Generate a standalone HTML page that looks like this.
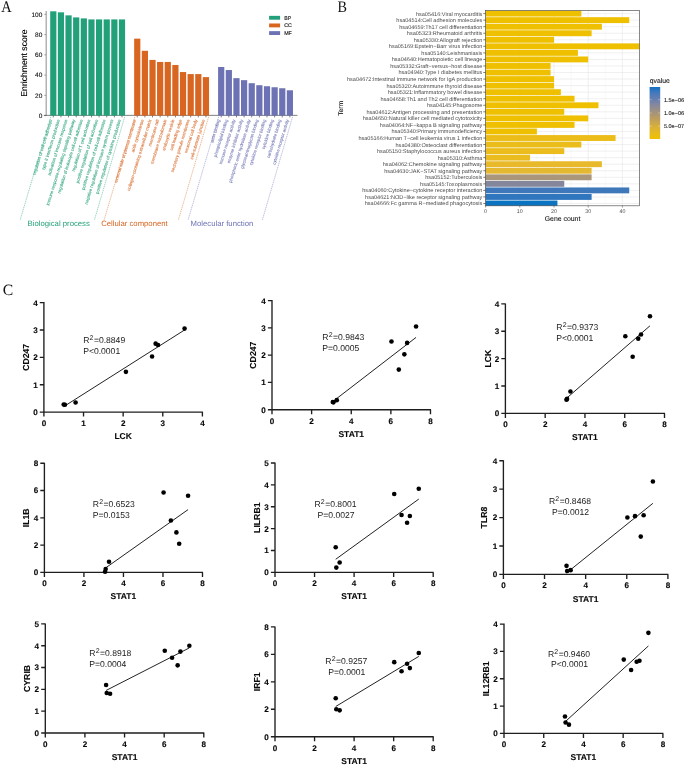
<!DOCTYPE html>
<html lang="en"><head><meta charset="utf-8"><title>Figure: GO / KEGG enrichment and correlation analysis</title>
<style>html,body{margin:0;padding:0;background:#fff}body{width:685px;height:765px;overflow:hidden}svg{display:block}svg text{font-family:'Liberation Sans', sans-serif;text-rendering:geometricPrecision}</style></head><body>
<svg width="685" height="765" viewBox="0 0 685 765">
<rect width="685" height="765" fill="#fff"/>
<text transform="translate(1.2 11.8) scale(0.88 1)" font-size="16.3" fill="#111" style="font-family:'Liberation Serif', serif">A</text>
<text transform="translate(337.5 11.5) scale(0.88 1)" font-size="16.1" fill="#111" style="font-family:'Liberation Serif', serif">B</text>
<text x="2.7" y="294.9" font-size="15.7" fill="#111" style="font-family:'Liberation Serif', serif">C</text>
<g id="panelA">
<path d="M46.2 10.9V115.7" fill="none" stroke="#a0a0a0" stroke-width="1.2"/>
<path d="M43.8 115.35H297.5" fill="none" stroke="#555" stroke-width="0.75"/>
<path d="M44.5 115.6H45.7" stroke="#333" stroke-width="0.6"/>
<text x="42.3" y="117.9" font-size="6.5" text-anchor="end" fill="#111" stroke="#111" stroke-width="0.12">0</text>
<path d="M44.5 95.35H45.7" stroke="#333" stroke-width="0.6"/>
<text x="42.3" y="97.65" font-size="6.5" text-anchor="end" fill="#111" stroke="#111" stroke-width="0.12">20</text>
<path d="M44.5 75.1H45.7" stroke="#333" stroke-width="0.6"/>
<text x="42.3" y="77.4" font-size="6.5" text-anchor="end" fill="#111" stroke="#111" stroke-width="0.12">40</text>
<path d="M44.5 54.85H45.7" stroke="#333" stroke-width="0.6"/>
<text x="42.3" y="57.15" font-size="6.5" text-anchor="end" fill="#111" stroke="#111" stroke-width="0.12">60</text>
<path d="M44.5 34.6H45.7" stroke="#333" stroke-width="0.6"/>
<text x="42.3" y="36.9" font-size="6.5" text-anchor="end" fill="#111" stroke="#111" stroke-width="0.12">80</text>
<path d="M44.5 14.35H45.7" stroke="#333" stroke-width="0.6"/>
<text x="42.3" y="16.65" font-size="6.5" text-anchor="end" fill="#111" stroke="#111" stroke-width="0.12">100</text>
<text transform="translate(26.5 63.1) rotate(-90)" font-size="8.65" text-anchor="middle" fill="#000" stroke="#000" stroke-width="0.12">Enrichment score</text>
<rect x="50.2" y="11.31" width="6.2" height="104.29" fill="#22A079"/>
<path d="M53.3 115.7v1.7" stroke="#2a2a2a" stroke-width="0.6"/>
<text transform="translate(52.3 119.9) rotate(-73)" font-size="4.3" text-anchor="end" fill="#22A079" fill-opacity="0.9" stroke="#22A079" stroke-width="0.12" stroke-opacity="0.7">regulation of cell-cell adhesion</text>
<rect x="57.83" y="12.33" width="6.2" height="103.27" fill="#22A079"/>
<path d="M60.93 115.7v1.7" stroke="#2a2a2a" stroke-width="0.6"/>
<text transform="translate(59.93 119.9) rotate(-73)" font-size="4.3" text-anchor="end" fill="#22A079" fill-opacity="0.9" stroke="#22A079" stroke-width="0.12" stroke-opacity="0.7">type II interferon production</text>
<rect x="65.46" y="15.36" width="6.2" height="100.24" fill="#22A079"/>
<path d="M68.56 115.7v1.7" stroke="#2a2a2a" stroke-width="0.6"/>
<text transform="translate(67.56 119.9) rotate(-73)" font-size="4.3" text-anchor="end" fill="#22A079" fill-opacity="0.9" stroke="#22A079" stroke-width="0.12" stroke-opacity="0.7">activation of immune response</text>
<rect x="73.1" y="17.39" width="6.2" height="98.21" fill="#22A079"/>
<path d="M76.2 115.7v1.7" stroke="#2a2a2a" stroke-width="0.6"/>
<text transform="translate(75.2 119.9) rotate(-73)" font-size="4.3" text-anchor="end" fill="#22A079" fill-opacity="0.9" stroke="#22A079" stroke-width="0.12" stroke-opacity="0.7">immune response-regulating signaling pathway</text>
<rect x="80.73" y="18.4" width="6.2" height="97.2" fill="#22A079"/>
<path d="M83.83 115.7v1.7" stroke="#2a2a2a" stroke-width="0.6"/>
<text transform="translate(82.83 119.9) rotate(-73)" font-size="4.3" text-anchor="end" fill="#22A079" fill-opacity="0.9" stroke="#22A079" stroke-width="0.12" stroke-opacity="0.7">regulation of leukocyte cell-cell adhesion</text>
<rect x="88.36" y="19.41" width="6.2" height="96.19" fill="#22A079"/>
<path d="M91.46 115.7v1.7" stroke="#2a2a2a" stroke-width="0.6"/>
<text transform="translate(90.46 119.9) rotate(-73)" font-size="4.3" text-anchor="end" fill="#22A079" fill-opacity="0.9" stroke="#22A079" stroke-width="0.12" stroke-opacity="0.7">regulation of T cell activation</text>
<rect x="95.99" y="19.41" width="6.2" height="96.19" fill="#22A079"/>
<path d="M99.09 115.7v1.7" stroke="#2a2a2a" stroke-width="0.6"/>
<text transform="translate(98.09 119.9) rotate(-73)" font-size="4.3" text-anchor="end" fill="#22A079" fill-opacity="0.9" stroke="#22A079" stroke-width="0.12" stroke-opacity="0.7">positive regulation of cell activation</text>
<rect x="103.62" y="19.41" width="6.2" height="96.19" fill="#22A079"/>
<path d="M106.72 115.7v1.7" stroke="#2a2a2a" stroke-width="0.6"/>
<text transform="translate(105.72 119.9) rotate(-73)" font-size="4.3" text-anchor="end" fill="#22A079" fill-opacity="0.9" stroke="#22A079" stroke-width="0.12" stroke-opacity="0.7">positive regulation of cell-cell adhesion</text>
<rect x="111.26" y="19.41" width="6.2" height="96.19" fill="#22A079"/>
<path d="M114.36 115.7v1.7" stroke="#2a2a2a" stroke-width="0.6"/>
<text transform="translate(113.36 119.9) rotate(-73)" font-size="4.3" text-anchor="end" fill="#22A079" fill-opacity="0.9" stroke="#22A079" stroke-width="0.12" stroke-opacity="0.7">negative regulation of immune system process</text>
<rect x="118.89" y="19.41" width="6.2" height="96.19" fill="#22A079"/>
<path d="M121.99 115.7v1.7" stroke="#2a2a2a" stroke-width="0.6"/>
<text transform="translate(120.99 119.9) rotate(-73)" font-size="4.3" text-anchor="end" fill="#22A079" fill-opacity="0.9" stroke="#22A079" stroke-width="0.12" stroke-opacity="0.7">positive regulation of cytokine production</text>
<path d="M50.8 116.8L20.06 220.3" stroke="#22A079" stroke-width="0.55" stroke-dasharray="1.3 0.7" fill="none" stroke-opacity="0.85"/>
<path d="M124.69 116.8L94.34 220.3" stroke="#22A079" stroke-width="0.55" stroke-dasharray="1.3 0.7" fill="none" stroke-opacity="0.85"/>
<rect x="134.15" y="38.65" width="6.2" height="76.95" fill="#D86520"/>
<path d="M137.25 115.7v1.7" stroke="#2a2a2a" stroke-width="0.6"/>
<text transform="translate(136.25 119.9) rotate(-73)" font-size="4.3" text-anchor="end" fill="#D86520" fill-opacity="0.9" stroke="#D86520" stroke-width="0.12" stroke-opacity="0.7">external side of plasma membrane</text>
<rect x="141.78" y="50.8" width="6.2" height="64.8" fill="#D86520"/>
<path d="M144.88 115.7v1.7" stroke="#2a2a2a" stroke-width="0.6"/>
<text transform="translate(143.88 119.9) rotate(-73)" font-size="4.3" text-anchor="end" fill="#D86520" fill-opacity="0.9" stroke="#D86520" stroke-width="0.12" stroke-opacity="0.7">actin cytoskeleton</text>
<rect x="149.42" y="59.91" width="6.2" height="55.69" fill="#D86520"/>
<path d="M152.52 115.7v1.7" stroke="#2a2a2a" stroke-width="0.6"/>
<text transform="translate(151.52 119.9) rotate(-73)" font-size="4.3" text-anchor="end" fill="#D86520" fill-opacity="0.9" stroke="#D86520" stroke-width="0.12" stroke-opacity="0.7">collagen-containing extracellular matrix</text>
<rect x="157.05" y="61.94" width="6.2" height="53.66" fill="#D86520"/>
<path d="M160.15 115.7v1.7" stroke="#2a2a2a" stroke-width="0.6"/>
<text transform="translate(159.15 119.9) rotate(-73)" font-size="4.3" text-anchor="end" fill="#D86520" fill-opacity="0.9" stroke="#D86520" stroke-width="0.12" stroke-opacity="0.7">membrane raft</text>
<rect x="164.68" y="61.94" width="6.2" height="53.66" fill="#D86520"/>
<path d="M167.78 115.7v1.7" stroke="#2a2a2a" stroke-width="0.6"/>
<text transform="translate(166.78 119.9) rotate(-73)" font-size="4.3" text-anchor="end" fill="#D86520" fill-opacity="0.9" stroke="#D86520" stroke-width="0.12" stroke-opacity="0.7">membrane microdomain</text>
<rect x="172.31" y="64.97" width="6.2" height="50.62" fill="#D86520"/>
<path d="M175.41 115.7v1.7" stroke="#2a2a2a" stroke-width="0.6"/>
<text transform="translate(174.41 119.9) rotate(-73)" font-size="4.3" text-anchor="end" fill="#D86520" fill-opacity="0.9" stroke="#D86520" stroke-width="0.12" stroke-opacity="0.7">endocytic vesicle</text>
<rect x="179.94" y="72.06" width="6.2" height="43.54" fill="#D86520"/>
<path d="M183.04 115.7v1.7" stroke="#2a2a2a" stroke-width="0.6"/>
<text transform="translate(182.04 119.9) rotate(-73)" font-size="4.3" text-anchor="end" fill="#D86520" fill-opacity="0.9" stroke="#D86520" stroke-width="0.12" stroke-opacity="0.7">cell leading edge</text>
<rect x="187.58" y="74.09" width="6.2" height="41.51" fill="#D86520"/>
<path d="M190.68 115.7v1.7" stroke="#2a2a2a" stroke-width="0.6"/>
<text transform="translate(189.68 119.9) rotate(-73)" font-size="4.3" text-anchor="end" fill="#D86520" fill-opacity="0.9" stroke="#D86520" stroke-width="0.12" stroke-opacity="0.7">secretory granule membrane</text>
<rect x="195.21" y="74.09" width="6.2" height="41.51" fill="#D86520"/>
<path d="M198.31 115.7v1.7" stroke="#2a2a2a" stroke-width="0.6"/>
<text transform="translate(197.31 119.9) rotate(-73)" font-size="4.3" text-anchor="end" fill="#D86520" fill-opacity="0.9" stroke="#D86520" stroke-width="0.12" stroke-opacity="0.7">neuronal cell body</text>
<rect x="202.84" y="77.12" width="6.2" height="38.48" fill="#D86520"/>
<path d="M205.94 115.7v1.7" stroke="#2a2a2a" stroke-width="0.6"/>
<text transform="translate(204.94 119.9) rotate(-73)" font-size="4.3" text-anchor="end" fill="#D86520" fill-opacity="0.9" stroke="#D86520" stroke-width="0.12" stroke-opacity="0.7">cell-substrate junction</text>
<path d="M134.75 116.8L104.01 220.3" stroke="#D86520" stroke-width="0.55" stroke-dasharray="1.3 0.7" fill="none" stroke-opacity="0.85"/>
<path d="M208.64 116.8L178.3 220.3" stroke="#D86520" stroke-width="0.55" stroke-dasharray="1.3 0.7" fill="none" stroke-opacity="0.85"/>
<rect x="218.1" y="67" width="6.2" height="48.6" fill="#6C72B4"/>
<path d="M221.2 115.7v1.7" stroke="#2a2a2a" stroke-width="0.6"/>
<text transform="translate(220.2 119.9) rotate(-73)" font-size="4.3" text-anchor="end" fill="#6C72B4" fill-opacity="0.9" stroke="#6C72B4" stroke-width="0.12" stroke-opacity="0.7">actin binding</text>
<rect x="225.74" y="70.04" width="6.2" height="45.56" fill="#6C72B4"/>
<path d="M228.84 115.7v1.7" stroke="#2a2a2a" stroke-width="0.6"/>
<text transform="translate(227.84 119.9) rotate(-73)" font-size="4.3" text-anchor="end" fill="#6C72B4" fill-opacity="0.9" stroke="#6C72B4" stroke-width="0.12" stroke-opacity="0.7">phospholipid binding</text>
<rect x="233.37" y="78.14" width="6.2" height="37.46" fill="#6C72B4"/>
<path d="M236.47 115.7v1.7" stroke="#2a2a2a" stroke-width="0.6"/>
<text transform="translate(235.47 119.9) rotate(-73)" font-size="4.3" text-anchor="end" fill="#6C72B4" fill-opacity="0.9" stroke="#6C72B4" stroke-width="0.12" stroke-opacity="0.7">immune receptor activity</text>
<rect x="241" y="80.16" width="6.2" height="35.44" fill="#6C72B4"/>
<path d="M244.1 115.7v1.7" stroke="#2a2a2a" stroke-width="0.6"/>
<text transform="translate(243.1 119.9) rotate(-73)" font-size="4.3" text-anchor="end" fill="#6C72B4" fill-opacity="0.9" stroke="#6C72B4" stroke-width="0.12" stroke-opacity="0.7">enzyme inhibitor activity</text>
<rect x="248.63" y="83.2" width="6.2" height="32.4" fill="#6C72B4"/>
<path d="M251.73 115.7v1.7" stroke="#2a2a2a" stroke-width="0.6"/>
<text transform="translate(250.73 119.9) rotate(-73)" font-size="4.3" text-anchor="end" fill="#6C72B4" fill-opacity="0.9" stroke="#6C72B4" stroke-width="0.12" stroke-opacity="0.7">phosphoric ester hydrolase activity</text>
<rect x="256.26" y="85.22" width="6.2" height="30.38" fill="#6C72B4"/>
<path d="M259.36 115.7v1.7" stroke="#2a2a2a" stroke-width="0.6"/>
<text transform="translate(258.36 119.9) rotate(-73)" font-size="4.3" text-anchor="end" fill="#6C72B4" fill-opacity="0.9" stroke="#6C72B4" stroke-width="0.12" stroke-opacity="0.7">glycosaminoglycan binding</text>
<rect x="263.9" y="86.24" width="6.2" height="29.36" fill="#6C72B4"/>
<path d="M267 115.7v1.7" stroke="#2a2a2a" stroke-width="0.6"/>
<text transform="translate(266 119.9) rotate(-73)" font-size="4.3" text-anchor="end" fill="#6C72B4" fill-opacity="0.9" stroke="#6C72B4" stroke-width="0.12" stroke-opacity="0.7">cytokine receptor binding</text>
<rect x="271.53" y="87.25" width="6.2" height="28.35" fill="#6C72B4"/>
<path d="M274.63 115.7v1.7" stroke="#2a2a2a" stroke-width="0.6"/>
<text transform="translate(273.63 119.9) rotate(-73)" font-size="4.3" text-anchor="end" fill="#6C72B4" fill-opacity="0.9" stroke="#6C72B4" stroke-width="0.12" stroke-opacity="0.7">cytokine binding</text>
<rect x="279.16" y="88.26" width="6.2" height="27.34" fill="#6C72B4"/>
<path d="M282.26 115.7v1.7" stroke="#2a2a2a" stroke-width="0.6"/>
<text transform="translate(281.26 119.9) rotate(-73)" font-size="4.3" text-anchor="end" fill="#6C72B4" fill-opacity="0.9" stroke="#6C72B4" stroke-width="0.12" stroke-opacity="0.7">carbohydrate binding</text>
<rect x="286.79" y="90.29" width="6.2" height="25.31" fill="#6C72B4"/>
<path d="M289.89 115.7v1.7" stroke="#2a2a2a" stroke-width="0.6"/>
<text transform="translate(288.89 119.9) rotate(-73)" font-size="4.3" text-anchor="end" fill="#6C72B4" fill-opacity="0.9" stroke="#6C72B4" stroke-width="0.12" stroke-opacity="0.7">cytokine receptor activity</text>
<path d="M218.7 116.8L187.96 220.3" stroke="#6C72B4" stroke-width="0.55" stroke-dasharray="1.3 0.7" fill="none" stroke-opacity="0.85"/>
<path d="M292.59 116.8L262.25 220.3" stroke="#6C72B4" stroke-width="0.55" stroke-dasharray="1.3 0.7" fill="none" stroke-opacity="0.85"/>
<text x="27.6" y="225.6" font-size="7.72" fill="#22A079">Biological process</text>
<text x="101.2" y="225.6" font-size="7.72" fill="#D86520">Cellular component</text>
<text x="190.6" y="225.6" font-size="7.72" fill="#6C72B4">Molecular function</text>
<rect x="269.1" y="15.85" width="11" height="3.85" fill="#22A079"/>
<text x="284.2" y="19.7" font-size="5.3" fill="#111" stroke="#111" stroke-width="0.12">BP</text>
<rect x="269.1" y="23.5" width="11" height="3.85" fill="#D86520"/>
<text x="284.2" y="27.35" font-size="5.3" fill="#111" stroke="#111" stroke-width="0.12">CC</text>
<rect x="269.1" y="31.15" width="11" height="3.85" fill="#6C72B4"/>
<text x="284.2" y="35" font-size="5.3" fill="#111" stroke="#111" stroke-width="0.12">MF</text>
</g>
<g id="panelB">
<path d="M502.7 10.5V205.8" stroke="#f1f1f1" stroke-width="0.4"/>
<path d="M536.9 10.5V205.8" stroke="#f1f1f1" stroke-width="0.4"/>
<path d="M571.1 10.5V205.8" stroke="#f1f1f1" stroke-width="0.4"/>
<path d="M605.3 10.5V205.8" stroke="#f1f1f1" stroke-width="0.4"/>
<path d="M485.6 10.5V205.8" stroke="#e6e6e6" stroke-width="0.6"/>
<path d="M519.8 10.5V205.8" stroke="#e6e6e6" stroke-width="0.6"/>
<path d="M554 10.5V205.8" stroke="#e6e6e6" stroke-width="0.6"/>
<path d="M588.2 10.5V205.8" stroke="#e6e6e6" stroke-width="0.6"/>
<path d="M622.4 10.5V205.8" stroke="#e6e6e6" stroke-width="0.6"/>
<path d="M485.6 13.6H639.5" stroke="#e6e6e6" stroke-width="0.6"/>
<path d="M485.6 20.15H639.5" stroke="#e6e6e6" stroke-width="0.6"/>
<path d="M485.6 26.7H639.5" stroke="#e6e6e6" stroke-width="0.6"/>
<path d="M485.6 33.24H639.5" stroke="#e6e6e6" stroke-width="0.6"/>
<path d="M485.6 39.79H639.5" stroke="#e6e6e6" stroke-width="0.6"/>
<path d="M485.6 46.34H639.5" stroke="#e6e6e6" stroke-width="0.6"/>
<path d="M485.6 52.89H639.5" stroke="#e6e6e6" stroke-width="0.6"/>
<path d="M485.6 59.44H639.5" stroke="#e6e6e6" stroke-width="0.6"/>
<path d="M485.6 65.98H639.5" stroke="#e6e6e6" stroke-width="0.6"/>
<path d="M485.6 72.53H639.5" stroke="#e6e6e6" stroke-width="0.6"/>
<path d="M485.6 79.08H639.5" stroke="#e6e6e6" stroke-width="0.6"/>
<path d="M485.6 85.63H639.5" stroke="#e6e6e6" stroke-width="0.6"/>
<path d="M485.6 92.18H639.5" stroke="#e6e6e6" stroke-width="0.6"/>
<path d="M485.6 98.72H639.5" stroke="#e6e6e6" stroke-width="0.6"/>
<path d="M485.6 105.27H639.5" stroke="#e6e6e6" stroke-width="0.6"/>
<path d="M485.6 111.82H639.5" stroke="#e6e6e6" stroke-width="0.6"/>
<path d="M485.6 118.37H639.5" stroke="#e6e6e6" stroke-width="0.6"/>
<path d="M485.6 124.92H639.5" stroke="#e6e6e6" stroke-width="0.6"/>
<path d="M485.6 131.46H639.5" stroke="#e6e6e6" stroke-width="0.6"/>
<path d="M485.6 138.01H639.5" stroke="#e6e6e6" stroke-width="0.6"/>
<path d="M485.6 144.56H639.5" stroke="#e6e6e6" stroke-width="0.6"/>
<path d="M485.6 151.11H639.5" stroke="#e6e6e6" stroke-width="0.6"/>
<path d="M485.6 157.66H639.5" stroke="#e6e6e6" stroke-width="0.6"/>
<path d="M485.6 164.2H639.5" stroke="#e6e6e6" stroke-width="0.6"/>
<path d="M485.6 170.75H639.5" stroke="#e6e6e6" stroke-width="0.6"/>
<path d="M485.6 177.3H639.5" stroke="#e6e6e6" stroke-width="0.6"/>
<path d="M485.6 183.85H639.5" stroke="#e6e6e6" stroke-width="0.6"/>
<path d="M485.6 190.4H639.5" stroke="#e6e6e6" stroke-width="0.6"/>
<path d="M485.6 196.94H639.5" stroke="#e6e6e6" stroke-width="0.6"/>
<path d="M485.6 203.49H639.5" stroke="#e6e6e6" stroke-width="0.6"/>
<rect x="485.6" y="10.65" width="95.76" height="5.89" fill="#EFC000"/>
<path d="M483.3 13.6H485.6" stroke="#222" stroke-width="0.6"/>
<text x="482.4" y="15.55" font-size="5.56" text-anchor="end" fill="#4d4d4d">hsa05416:Viral myocarditis</text>
<rect x="485.6" y="17.2" width="143.64" height="5.89" fill="#EFC000"/>
<path d="M483.3 20.15H485.6" stroke="#222" stroke-width="0.6"/>
<text x="482.4" y="22.1" font-size="5.56" text-anchor="end" fill="#4d4d4d">hsa04514:Cell adhesion molecules</text>
<rect x="485.6" y="23.75" width="116.28" height="5.89" fill="#EFC000"/>
<path d="M483.3 26.7H485.6" stroke="#222" stroke-width="0.6"/>
<text x="482.4" y="28.65" font-size="5.56" text-anchor="end" fill="#4d4d4d">hsa04659:Th17 cell differentiation</text>
<rect x="485.6" y="30.3" width="106.02" height="5.89" fill="#EFC000"/>
<path d="M483.3 33.24H485.6" stroke="#222" stroke-width="0.6"/>
<text x="482.4" y="35.19" font-size="5.56" text-anchor="end" fill="#4d4d4d">hsa05323:Rheumatoid arthritis</text>
<rect x="485.6" y="36.85" width="68.4" height="5.89" fill="#EFC000"/>
<path d="M483.3 39.79H485.6" stroke="#222" stroke-width="0.6"/>
<text x="482.4" y="41.74" font-size="5.56" text-anchor="end" fill="#4d4d4d">hsa05330:Allograft rejection</text>
<rect x="485.6" y="43.39" width="153.9" height="5.89" fill="#EFC000"/>
<path d="M483.3 46.34H485.6" stroke="#222" stroke-width="0.6"/>
<text x="482.4" y="48.29" font-size="5.56" text-anchor="end" fill="#4d4d4d">hsa05169:Epstein−Barr virus infection</text>
<rect x="485.6" y="49.94" width="92.34" height="5.89" fill="#EFC000"/>
<path d="M483.3 52.89H485.6" stroke="#222" stroke-width="0.6"/>
<text x="482.4" y="54.84" font-size="5.56" text-anchor="end" fill="#4d4d4d">hsa05140:Leishmaniasis</text>
<rect x="485.6" y="56.49" width="102.6" height="5.89" fill="#EFC000"/>
<path d="M483.3 59.44H485.6" stroke="#222" stroke-width="0.6"/>
<text x="482.4" y="61.39" font-size="5.56" text-anchor="end" fill="#4d4d4d">hsa04640:Hematopoietic cell lineage</text>
<rect x="485.6" y="63.04" width="64.98" height="5.89" fill="#EFC000"/>
<path d="M483.3 65.98H485.6" stroke="#222" stroke-width="0.6"/>
<text x="482.4" y="67.93" font-size="5.56" text-anchor="end" fill="#4d4d4d">hsa05332:Graft−versus−host disease</text>
<rect x="485.6" y="69.59" width="64.98" height="5.89" fill="#EFC000"/>
<path d="M483.3 72.53H485.6" stroke="#222" stroke-width="0.6"/>
<text x="482.4" y="74.48" font-size="5.56" text-anchor="end" fill="#4d4d4d">hsa04940:Type I diabetes mellitus</text>
<rect x="485.6" y="76.13" width="68.4" height="5.89" fill="#EFC000"/>
<path d="M483.3 79.08H485.6" stroke="#222" stroke-width="0.6"/>
<text x="482.4" y="81.03" font-size="5.56" text-anchor="end" fill="#4d4d4d">hsa04672:Intestinal immune network for IgA production</text>
<rect x="485.6" y="82.68" width="68.4" height="5.89" fill="#EFC000"/>
<path d="M483.3 85.63H485.6" stroke="#222" stroke-width="0.6"/>
<text x="482.4" y="87.58" font-size="5.56" text-anchor="end" fill="#4d4d4d">hsa05320:Autoimmune thyroid disease</text>
<rect x="485.6" y="89.23" width="75.24" height="5.89" fill="#EFC000"/>
<path d="M483.3 92.18H485.6" stroke="#222" stroke-width="0.6"/>
<text x="482.4" y="94.13" font-size="5.56" text-anchor="end" fill="#4d4d4d">hsa05321:Inflammatory bowel disease</text>
<rect x="485.6" y="95.78" width="88.92" height="5.89" fill="#EFC000"/>
<path d="M483.3 98.72H485.6" stroke="#222" stroke-width="0.6"/>
<text x="482.4" y="100.67" font-size="5.56" text-anchor="end" fill="#4d4d4d">hsa04658:Th1 and Th2 cell differentiation</text>
<rect x="485.6" y="102.33" width="112.86" height="5.89" fill="#EFC000"/>
<path d="M483.3 105.27H485.6" stroke="#222" stroke-width="0.6"/>
<text x="482.4" y="107.22" font-size="5.56" text-anchor="end" fill="#4d4d4d">hsa04145:Phagosome</text>
<rect x="485.6" y="108.87" width="78.66" height="5.89" fill="#EFC000"/>
<path d="M483.3 111.82H485.6" stroke="#222" stroke-width="0.6"/>
<text x="482.4" y="113.77" font-size="5.56" text-anchor="end" fill="#4d4d4d">hsa04612:Antigen processing and presentation</text>
<rect x="485.6" y="115.42" width="102.6" height="5.89" fill="#EFC000"/>
<path d="M483.3 118.37H485.6" stroke="#222" stroke-width="0.6"/>
<text x="482.4" y="120.32" font-size="5.56" text-anchor="end" fill="#4d4d4d">hsa04650:Natural killer cell mediated cytotoxicity</text>
<rect x="485.6" y="121.97" width="88.92" height="5.89" fill="#EFC000"/>
<path d="M483.3 124.92H485.6" stroke="#222" stroke-width="0.6"/>
<text x="482.4" y="126.87" font-size="5.56" text-anchor="end" fill="#4d4d4d">hsa04064:NF−kappa B signaling pathway</text>
<rect x="485.6" y="128.52" width="51.3" height="5.89" fill="#EFC000"/>
<path d="M483.3 131.46H485.6" stroke="#222" stroke-width="0.6"/>
<text x="482.4" y="133.41" font-size="5.56" text-anchor="end" fill="#4d4d4d">hsa05340:Primary immunodeficiency</text>
<rect x="485.6" y="135.07" width="129.96" height="5.89" fill="#ECBD18"/>
<path d="M483.3 138.01H485.6" stroke="#222" stroke-width="0.6"/>
<text x="482.4" y="139.96" font-size="5.56" text-anchor="end" fill="#4d4d4d">hsa05166:Human T−cell leukemia virus 1 infection</text>
<rect x="485.6" y="141.61" width="95.76" height="5.89" fill="#EBBD1A"/>
<path d="M483.3 144.56H485.6" stroke="#222" stroke-width="0.6"/>
<text x="482.4" y="146.51" font-size="5.56" text-anchor="end" fill="#4d4d4d">hsa04380:Osteoclast differentiation</text>
<rect x="485.6" y="148.16" width="78.66" height="5.89" fill="#EBBC1C"/>
<path d="M483.3 151.11H485.6" stroke="#222" stroke-width="0.6"/>
<text x="482.4" y="153.06" font-size="5.56" text-anchor="end" fill="#4d4d4d">hsa05150:Staphylococcus aureus infection</text>
<rect x="485.6" y="154.71" width="44.46" height="5.89" fill="#EABC20"/>
<path d="M483.3 157.66H485.6" stroke="#222" stroke-width="0.6"/>
<text x="482.4" y="159.61" font-size="5.56" text-anchor="end" fill="#4d4d4d">hsa05310:Asthma</text>
<rect x="485.6" y="161.26" width="116.28" height="5.89" fill="#E7B92B"/>
<path d="M483.3 164.2H485.6" stroke="#222" stroke-width="0.6"/>
<text x="482.4" y="166.15" font-size="5.56" text-anchor="end" fill="#4d4d4d">hsa04062:Chemokine signaling pathway</text>
<rect x="485.6" y="167.81" width="106.02" height="5.89" fill="#E5B832"/>
<path d="M483.3 170.75H485.6" stroke="#222" stroke-width="0.6"/>
<text x="482.4" y="172.7" font-size="5.56" text-anchor="end" fill="#4d4d4d">hsa04630:JAK−STAT signaling pathway</text>
<rect x="485.6" y="174.35" width="106.02" height="5.89" fill="#AA977B"/>
<path d="M483.3 177.3H485.6" stroke="#222" stroke-width="0.6"/>
<text x="482.4" y="179.25" font-size="5.56" text-anchor="end" fill="#4d4d4d">hsa05152:Tuberculosis</text>
<rect x="485.6" y="180.9" width="78.66" height="5.89" fill="#84869C"/>
<path d="M483.3 183.85H485.6" stroke="#222" stroke-width="0.6"/>
<text x="482.4" y="185.8" font-size="5.56" text-anchor="end" fill="#4d4d4d">hsa05145:Toxoplasmosis</text>
<rect x="485.6" y="187.45" width="143.64" height="5.89" fill="#3F78BA"/>
<path d="M483.3 190.4H485.6" stroke="#222" stroke-width="0.6"/>
<text x="482.4" y="192.35" font-size="5.56" text-anchor="end" fill="#4d4d4d">hsa04060:Cytokine−cytokine receptor interaction</text>
<rect x="485.6" y="194" width="106.02" height="5.89" fill="#2F76BE"/>
<path d="M483.3 196.94H485.6" stroke="#222" stroke-width="0.6"/>
<text x="482.4" y="198.89" font-size="5.56" text-anchor="end" fill="#4d4d4d">hsa04621:NOD−like receptor signaling pathway</text>
<rect x="485.6" y="200.55" width="71.82" height="5.25" fill="#0A73C2"/>
<path d="M483.3 203.49H485.6" stroke="#222" stroke-width="0.6"/>
<text x="482.4" y="205.44" font-size="5.56" text-anchor="end" fill="#4d4d4d">hsa04666:Fc gamma R−mediated phagocytosis</text>
<rect x="485.6" y="10.5" width="153.9" height="195.3" fill="none" stroke="#4a4a4a" stroke-width="0.65"/>
<path d="M485.6 205.8v1.7" stroke="#333" stroke-width="0.5"/>
<text x="485.6" y="213" font-size="5.3" text-anchor="middle" fill="#4d4d4d">0</text>
<path d="M519.8 205.8v1.7" stroke="#333" stroke-width="0.5"/>
<text x="519.8" y="213" font-size="5.3" text-anchor="middle" fill="#4d4d4d">10</text>
<path d="M554 205.8v1.7" stroke="#333" stroke-width="0.5"/>
<text x="554" y="213" font-size="5.3" text-anchor="middle" fill="#4d4d4d">20</text>
<path d="M588.2 205.8v1.7" stroke="#333" stroke-width="0.5"/>
<text x="588.2" y="213" font-size="5.3" text-anchor="middle" fill="#4d4d4d">30</text>
<path d="M622.4 205.8v1.7" stroke="#333" stroke-width="0.5"/>
<text x="622.4" y="213" font-size="5.3" text-anchor="middle" fill="#4d4d4d">40</text>
<text x="562.55" y="221.3" font-size="6.9" text-anchor="middle" fill="#111" stroke="#111" stroke-width="0.08">Gene count</text>
<text transform="translate(342.9 108.3) rotate(-90)" font-size="6.8" text-anchor="middle" fill="#111" stroke="#111" stroke-width="0.1">Term</text>
<defs><linearGradient id="qg" x1="0" y1="0" x2="0" y2="1"><stop offset="0" stop-color="#1471C4"/><stop offset="0.12" stop-color="#4779BC"/><stop offset="0.25" stop-color="#6A80AD"/><stop offset="0.37" stop-color="#8C8A99"/><stop offset="0.5" stop-color="#A69479"/><stop offset="0.62" stop-color="#BE9F5C"/><stop offset="0.75" stop-color="#D6AE3E"/><stop offset="0.88" stop-color="#E6BA1E"/><stop offset="1" stop-color="#EFC000"/></linearGradient></defs>
<text x="649.8" y="82.6" font-size="6.8" fill="#111" stroke="#111" stroke-width="0.08">qvalue</text>
<rect x="649.6" y="87" width="10.6" height="52" fill="url(#qg)"/>
<path d="M649.6 99.7h2.1M658.1 99.7h2.1" stroke="#fff" stroke-width="0.4" stroke-opacity="0.8"/>
<text x="663.9" y="101.65" font-size="5.55" fill="#1a1a1a" stroke="#1a1a1a" stroke-width="0.1">1.5e−06</text>
<path d="M649.6 113.0h2.1M658.1 113.0h2.1" stroke="#fff" stroke-width="0.4" stroke-opacity="0.8"/>
<text x="663.9" y="114.95" font-size="5.55" fill="#1a1a1a" stroke="#1a1a1a" stroke-width="0.1">1.0e−06</text>
<path d="M649.6 126.2h2.1M658.1 126.2h2.1" stroke="#fff" stroke-width="0.4" stroke-opacity="0.8"/>
<text x="663.9" y="128.15" font-size="5.55" fill="#1a1a1a" stroke="#1a1a1a" stroke-width="0.1">5.0e−07</text>
</g>
<g id="panelC">
<g>
<path d="M43.9 302.1V412.1H202.9M43.9 412.1v4.5M83.53 412.1v4.5M123.15 412.1v4.5M162.78 412.1v4.5M202.4 412.1v4.5M43.9 412.1h-4.1M43.9 384.73h-4.1M43.9 357.35h-4.1M43.9 329.98h-4.1M43.9 302.6h-4.1" fill="none" stroke="#1e1e1e" stroke-width="1.35"/>
<text x="43.9" y="425.9" font-size="8.1" font-weight="bold" text-anchor="middle" fill="#0a0a0a" stroke="#0a0a0a" stroke-width="0.12">0</text>
<text x="83.53" y="425.9" font-size="8.1" font-weight="bold" text-anchor="middle" fill="#0a0a0a" stroke="#0a0a0a" stroke-width="0.12">1</text>
<text x="123.15" y="425.9" font-size="8.1" font-weight="bold" text-anchor="middle" fill="#0a0a0a" stroke="#0a0a0a" stroke-width="0.12">2</text>
<text x="162.78" y="425.9" font-size="8.1" font-weight="bold" text-anchor="middle" fill="#0a0a0a" stroke="#0a0a0a" stroke-width="0.12">3</text>
<text x="202.4" y="425.9" font-size="8.1" font-weight="bold" text-anchor="middle" fill="#0a0a0a" stroke="#0a0a0a" stroke-width="0.12">4</text>
<text x="37.7" y="415" font-size="8.1" font-weight="bold" text-anchor="end" fill="#0a0a0a" stroke="#0a0a0a" stroke-width="0.12">0</text>
<text x="37.7" y="387.62" font-size="8.1" font-weight="bold" text-anchor="end" fill="#0a0a0a" stroke="#0a0a0a" stroke-width="0.12">1</text>
<text x="37.7" y="360.25" font-size="8.1" font-weight="bold" text-anchor="end" fill="#0a0a0a" stroke="#0a0a0a" stroke-width="0.12">2</text>
<text x="37.7" y="332.88" font-size="8.1" font-weight="bold" text-anchor="end" fill="#0a0a0a" stroke="#0a0a0a" stroke-width="0.12">3</text>
<text x="37.7" y="305.5" font-size="8.1" font-weight="bold" text-anchor="end" fill="#0a0a0a" stroke="#0a0a0a" stroke-width="0.12">4</text>
<text x="123.15" y="438.6" font-size="8.5" font-weight="bold" text-anchor="middle" fill="#0a0a0a" stroke="#0a0a0a" stroke-width="0.1">LCK</text>
<text transform="translate(28.8 357.35) rotate(-90)" font-size="8.7" font-weight="bold" text-anchor="middle" fill="#0a0a0a" stroke="#0a0a0a" stroke-width="0.1">CD247</text>
<path d="M63.71 406.62L184.57 329.98" stroke="#161616" stroke-width="0.95"/>
<circle cx="63.71" cy="404.44" r="2.3" fill="#000"/>
<circle cx="64.9" cy="404.71" r="2.3" fill="#000"/>
<circle cx="75.6" cy="402.52" r="2.3" fill="#000"/>
<circle cx="155.64" cy="343.66" r="2.3" fill="#000"/>
<circle cx="125.92" cy="371.86" r="2.3" fill="#000"/>
<circle cx="152.08" cy="356.53" r="2.3" fill="#000"/>
<circle cx="158.02" cy="345.03" r="2.3" fill="#000"/>
<circle cx="184.57" cy="328.61" r="2.3" fill="#000"/>
<text x="83.2" y="342.6" font-size="8.58" fill="#1a1a1a">R<tspan font-size="7" dx="0.15" dy="-2.9">2</tspan><tspan dx="0.45" dy="2.9">=0.8849</tspan></text>
<text x="83.2" y="353.5" font-size="8.58" fill="#1a1a1a">P&lt;0.0001</text>
</g>
<g>
<path d="M272 300.1V409.7H431M272 409.7v4.5M311.62 409.7v4.5M351.25 409.7v4.5M390.88 409.7v4.5M430.5 409.7v4.5M272 409.7h-4.1M272 382.43h-4.1M272 355.15h-4.1M272 327.88h-4.1M272 300.6h-4.1" fill="none" stroke="#1e1e1e" stroke-width="1.35"/>
<text x="272" y="423.5" font-size="8.1" font-weight="bold" text-anchor="middle" fill="#0a0a0a" stroke="#0a0a0a" stroke-width="0.12">0</text>
<text x="311.62" y="423.5" font-size="8.1" font-weight="bold" text-anchor="middle" fill="#0a0a0a" stroke="#0a0a0a" stroke-width="0.12">2</text>
<text x="351.25" y="423.5" font-size="8.1" font-weight="bold" text-anchor="middle" fill="#0a0a0a" stroke="#0a0a0a" stroke-width="0.12">4</text>
<text x="390.88" y="423.5" font-size="8.1" font-weight="bold" text-anchor="middle" fill="#0a0a0a" stroke="#0a0a0a" stroke-width="0.12">6</text>
<text x="430.5" y="423.5" font-size="8.1" font-weight="bold" text-anchor="middle" fill="#0a0a0a" stroke="#0a0a0a" stroke-width="0.12">8</text>
<text x="265.8" y="412.6" font-size="8.1" font-weight="bold" text-anchor="end" fill="#0a0a0a" stroke="#0a0a0a" stroke-width="0.12">0</text>
<text x="265.8" y="385.32" font-size="8.1" font-weight="bold" text-anchor="end" fill="#0a0a0a" stroke="#0a0a0a" stroke-width="0.12">1</text>
<text x="265.8" y="358.05" font-size="8.1" font-weight="bold" text-anchor="end" fill="#0a0a0a" stroke="#0a0a0a" stroke-width="0.12">2</text>
<text x="265.8" y="330.77" font-size="8.1" font-weight="bold" text-anchor="end" fill="#0a0a0a" stroke="#0a0a0a" stroke-width="0.12">3</text>
<text x="265.8" y="303.5" font-size="8.1" font-weight="bold" text-anchor="end" fill="#0a0a0a" stroke="#0a0a0a" stroke-width="0.12">4</text>
<text x="351.25" y="436.6" font-size="8.5" font-weight="bold" text-anchor="middle" fill="#0a0a0a" stroke="#0a0a0a" stroke-width="0.1">STAT1</text>
<text transform="translate(256.3 355.15) rotate(-90)" font-size="8.7" font-weight="bold" text-anchor="middle" fill="#0a0a0a" stroke="#0a0a0a" stroke-width="0.1">CD247</text>
<path d="M332.82 401.52L416.04 337.42" stroke="#161616" stroke-width="0.95"/>
<circle cx="332.82" cy="402.06" r="2.3" fill="#000"/>
<circle cx="333.42" cy="402.34" r="2.3" fill="#000"/>
<circle cx="336.79" cy="400.15" r="2.3" fill="#000"/>
<circle cx="391.47" cy="341.51" r="2.3" fill="#000"/>
<circle cx="398.8" cy="369.61" r="2.3" fill="#000"/>
<circle cx="404.35" cy="354.33" r="2.3" fill="#000"/>
<circle cx="407.12" cy="342.88" r="2.3" fill="#000"/>
<circle cx="416.04" cy="326.51" r="2.3" fill="#000"/>
<text x="322.3" y="340.3" font-size="8.58" fill="#1a1a1a">R<tspan font-size="7" dx="0.15" dy="-2.9">2</tspan><tspan dx="0.45" dy="2.9">=0.9843</tspan></text>
<text x="322.3" y="351.2" font-size="8.58" fill="#1a1a1a">P=0.0005</text>
</g>
<g>
<path d="M505.4 303.4V413.4H665M505.4 413.4v4.5M545.17 413.4v4.5M584.95 413.4v4.5M624.73 413.4v4.5M664.5 413.4v4.5M505.4 413.4h-4.1M505.4 386.02h-4.1M505.4 358.65h-4.1M505.4 331.27h-4.1M505.4 303.9h-4.1" fill="none" stroke="#1e1e1e" stroke-width="1.35"/>
<text x="505.4" y="427.2" font-size="8.1" font-weight="bold" text-anchor="middle" fill="#0a0a0a" stroke="#0a0a0a" stroke-width="0.12">0</text>
<text x="545.17" y="427.2" font-size="8.1" font-weight="bold" text-anchor="middle" fill="#0a0a0a" stroke="#0a0a0a" stroke-width="0.12">2</text>
<text x="584.95" y="427.2" font-size="8.1" font-weight="bold" text-anchor="middle" fill="#0a0a0a" stroke="#0a0a0a" stroke-width="0.12">4</text>
<text x="624.73" y="427.2" font-size="8.1" font-weight="bold" text-anchor="middle" fill="#0a0a0a" stroke="#0a0a0a" stroke-width="0.12">6</text>
<text x="664.5" y="427.2" font-size="8.1" font-weight="bold" text-anchor="middle" fill="#0a0a0a" stroke="#0a0a0a" stroke-width="0.12">8</text>
<text x="499.2" y="416.3" font-size="8.1" font-weight="bold" text-anchor="end" fill="#0a0a0a" stroke="#0a0a0a" stroke-width="0.12">0</text>
<text x="499.2" y="388.92" font-size="8.1" font-weight="bold" text-anchor="end" fill="#0a0a0a" stroke="#0a0a0a" stroke-width="0.12">1</text>
<text x="499.2" y="361.55" font-size="8.1" font-weight="bold" text-anchor="end" fill="#0a0a0a" stroke="#0a0a0a" stroke-width="0.12">2</text>
<text x="499.2" y="334.17" font-size="8.1" font-weight="bold" text-anchor="end" fill="#0a0a0a" stroke="#0a0a0a" stroke-width="0.12">3</text>
<text x="499.2" y="306.8" font-size="8.1" font-weight="bold" text-anchor="end" fill="#0a0a0a" stroke="#0a0a0a" stroke-width="0.12">4</text>
<text x="584.95" y="439.6" font-size="8.5" font-weight="bold" text-anchor="middle" fill="#0a0a0a" stroke="#0a0a0a" stroke-width="0.1">STAT1</text>
<text transform="translate(490.5 358.65) rotate(-90)" font-size="8.7" font-weight="bold" text-anchor="middle" fill="#0a0a0a" stroke="#0a0a0a" stroke-width="0.1">LCK</text>
<path d="M566.45 398.34L649.98 325.8" stroke="#161616" stroke-width="0.95"/>
<circle cx="566.45" cy="399.71" r="2.3" fill="#000"/>
<circle cx="567.05" cy="398.89" r="2.3" fill="#000"/>
<circle cx="570.43" cy="391.5" r="2.3" fill="#000"/>
<circle cx="625.32" cy="336.2" r="2.3" fill="#000"/>
<circle cx="632.68" cy="356.73" r="2.3" fill="#000"/>
<circle cx="638.25" cy="338.67" r="2.3" fill="#000"/>
<circle cx="641.03" cy="334.56" r="2.3" fill="#000"/>
<circle cx="649.98" cy="316.22" r="2.3" fill="#000"/>
<text x="556.3" y="330" font-size="8.58" fill="#1a1a1a">R<tspan font-size="7" dx="0.15" dy="-2.9">2</tspan><tspan dx="0.45" dy="2.9">=0.9373</tspan></text>
<text x="556.3" y="340.9" font-size="8.58" fill="#1a1a1a">P&lt;0.0001</text>
</g>
<g>
<path d="M44.4 462.7V572.4H203M44.4 572.4v4.5M83.92 572.4v4.5M123.45 572.4v4.5M162.97 572.4v4.5M202.5 572.4v4.5M44.4 572.4h-4.1M44.4 545.1h-4.1M44.4 517.8h-4.1M44.4 490.5h-4.1M44.4 463.2h-4.1" fill="none" stroke="#1e1e1e" stroke-width="1.35"/>
<text x="44.4" y="586.2" font-size="8.1" font-weight="bold" text-anchor="middle" fill="#0a0a0a" stroke="#0a0a0a" stroke-width="0.12">0</text>
<text x="83.92" y="586.2" font-size="8.1" font-weight="bold" text-anchor="middle" fill="#0a0a0a" stroke="#0a0a0a" stroke-width="0.12">2</text>
<text x="123.45" y="586.2" font-size="8.1" font-weight="bold" text-anchor="middle" fill="#0a0a0a" stroke="#0a0a0a" stroke-width="0.12">4</text>
<text x="162.97" y="586.2" font-size="8.1" font-weight="bold" text-anchor="middle" fill="#0a0a0a" stroke="#0a0a0a" stroke-width="0.12">6</text>
<text x="202.5" y="586.2" font-size="8.1" font-weight="bold" text-anchor="middle" fill="#0a0a0a" stroke="#0a0a0a" stroke-width="0.12">8</text>
<text x="38.2" y="575.3" font-size="8.1" font-weight="bold" text-anchor="end" fill="#0a0a0a" stroke="#0a0a0a" stroke-width="0.12">0</text>
<text x="38.2" y="548" font-size="8.1" font-weight="bold" text-anchor="end" fill="#0a0a0a" stroke="#0a0a0a" stroke-width="0.12">2</text>
<text x="38.2" y="520.7" font-size="8.1" font-weight="bold" text-anchor="end" fill="#0a0a0a" stroke="#0a0a0a" stroke-width="0.12">4</text>
<text x="38.2" y="493.4" font-size="8.1" font-weight="bold" text-anchor="end" fill="#0a0a0a" stroke="#0a0a0a" stroke-width="0.12">6</text>
<text x="38.2" y="466.1" font-size="8.1" font-weight="bold" text-anchor="end" fill="#0a0a0a" stroke="#0a0a0a" stroke-width="0.12">8</text>
<text x="123.45" y="599.1" font-size="8.5" font-weight="bold" text-anchor="middle" fill="#0a0a0a" stroke="#0a0a0a" stroke-width="0.1">STAT1</text>
<text transform="translate(28.8 517.8) rotate(-90)" font-size="8.7" font-weight="bold" text-anchor="middle" fill="#0a0a0a" stroke="#0a0a0a" stroke-width="0.1">IL1B</text>
<path d="M105.07 568.3L188.07 509.61" stroke="#161616" stroke-width="0.95"/>
<circle cx="105.07" cy="571.72" r="2.3" fill="#000"/>
<circle cx="105.66" cy="568.99" r="2.3" fill="#000"/>
<circle cx="109.02" cy="561.75" r="2.3" fill="#000"/>
<circle cx="163.57" cy="492.55" r="2.3" fill="#000"/>
<circle cx="170.88" cy="520.53" r="2.3" fill="#000"/>
<circle cx="176.41" cy="532.41" r="2.3" fill="#000"/>
<circle cx="179.18" cy="543.74" r="2.3" fill="#000"/>
<circle cx="188.07" cy="495.69" r="2.3" fill="#000"/>
<text x="92.8" y="506.7" font-size="8.58" fill="#1a1a1a">R<tspan font-size="7" dx="0.15" dy="-2.9">2</tspan><tspan dx="0.45" dy="2.9">=0.6523</tspan></text>
<text x="92.8" y="517.6" font-size="8.58" fill="#1a1a1a">P=0.0153</text>
</g>
<g>
<path d="M275 462.5V572.4H433.7M275 572.4v4.5M314.55 572.4v4.5M354.1 572.4v4.5M393.65 572.4v4.5M433.2 572.4v4.5M275 572.4h-4.1M275 550.52h-4.1M275 528.64h-4.1M275 506.76h-4.1M275 484.88h-4.1M275 463h-4.1" fill="none" stroke="#1e1e1e" stroke-width="1.35"/>
<text x="275" y="586.2" font-size="8.1" font-weight="bold" text-anchor="middle" fill="#0a0a0a" stroke="#0a0a0a" stroke-width="0.12">0</text>
<text x="314.55" y="586.2" font-size="8.1" font-weight="bold" text-anchor="middle" fill="#0a0a0a" stroke="#0a0a0a" stroke-width="0.12">2</text>
<text x="354.1" y="586.2" font-size="8.1" font-weight="bold" text-anchor="middle" fill="#0a0a0a" stroke="#0a0a0a" stroke-width="0.12">4</text>
<text x="393.65" y="586.2" font-size="8.1" font-weight="bold" text-anchor="middle" fill="#0a0a0a" stroke="#0a0a0a" stroke-width="0.12">6</text>
<text x="433.2" y="586.2" font-size="8.1" font-weight="bold" text-anchor="middle" fill="#0a0a0a" stroke="#0a0a0a" stroke-width="0.12">8</text>
<text x="268.8" y="575.3" font-size="8.1" font-weight="bold" text-anchor="end" fill="#0a0a0a" stroke="#0a0a0a" stroke-width="0.12">0</text>
<text x="268.8" y="553.42" font-size="8.1" font-weight="bold" text-anchor="end" fill="#0a0a0a" stroke="#0a0a0a" stroke-width="0.12">1</text>
<text x="268.8" y="531.54" font-size="8.1" font-weight="bold" text-anchor="end" fill="#0a0a0a" stroke="#0a0a0a" stroke-width="0.12">2</text>
<text x="268.8" y="509.66" font-size="8.1" font-weight="bold" text-anchor="end" fill="#0a0a0a" stroke="#0a0a0a" stroke-width="0.12">3</text>
<text x="268.8" y="487.78" font-size="8.1" font-weight="bold" text-anchor="end" fill="#0a0a0a" stroke="#0a0a0a" stroke-width="0.12">4</text>
<text x="268.8" y="465.9" font-size="8.1" font-weight="bold" text-anchor="end" fill="#0a0a0a" stroke="#0a0a0a" stroke-width="0.12">5</text>
<text x="354.1" y="599.1" font-size="8.5" font-weight="bold" text-anchor="middle" fill="#0a0a0a" stroke="#0a0a0a" stroke-width="0.1">STAT1</text>
<text transform="translate(260 517.7) rotate(-90)" font-size="8.7" font-weight="bold" text-anchor="middle" fill="#0a0a0a" stroke="#0a0a0a" stroke-width="0.1">LILRB1</text>
<path d="M335.71 559.27L418.76 499.1" stroke="#161616" stroke-width="0.95"/>
<circle cx="335.71" cy="547.24" r="2.3" fill="#000"/>
<circle cx="336.3" cy="567.59" r="2.3" fill="#000"/>
<circle cx="339.66" cy="562.55" r="2.3" fill="#000"/>
<circle cx="394.24" cy="494.07" r="2.3" fill="#000"/>
<circle cx="401.56" cy="515.07" r="2.3" fill="#000"/>
<circle cx="407.1" cy="522.73" r="2.3" fill="#000"/>
<circle cx="409.87" cy="515.95" r="2.3" fill="#000"/>
<circle cx="418.76" cy="488.82" r="2.3" fill="#000"/>
<text x="314.5" y="506.7" font-size="8.58" fill="#1a1a1a">R<tspan font-size="7" dx="0.15" dy="-2.9">2</tspan><tspan dx="0.45" dy="2.9">=0.8001</tspan></text>
<text x="317.5" y="517.6" font-size="8.58" fill="#1a1a1a">P=0.0027</text>
</g>
<g>
<path d="M503.4 460.2V574.4H668.4M503.4 574.4v4.5M544.52 574.4v4.5M585.65 574.4v4.5M626.77 574.4v4.5M667.9 574.4v4.5M503.4 574.4h-4.1M503.4 545.98h-4.1M503.4 517.55h-4.1M503.4 489.12h-4.1M503.4 460.7h-4.1" fill="none" stroke="#1e1e1e" stroke-width="1.35"/>
<text x="503.4" y="588.2" font-size="8.1" font-weight="bold" text-anchor="middle" fill="#0a0a0a" stroke="#0a0a0a" stroke-width="0.12">0</text>
<text x="544.52" y="588.2" font-size="8.1" font-weight="bold" text-anchor="middle" fill="#0a0a0a" stroke="#0a0a0a" stroke-width="0.12">2</text>
<text x="585.65" y="588.2" font-size="8.1" font-weight="bold" text-anchor="middle" fill="#0a0a0a" stroke="#0a0a0a" stroke-width="0.12">4</text>
<text x="626.77" y="588.2" font-size="8.1" font-weight="bold" text-anchor="middle" fill="#0a0a0a" stroke="#0a0a0a" stroke-width="0.12">6</text>
<text x="667.9" y="588.2" font-size="8.1" font-weight="bold" text-anchor="middle" fill="#0a0a0a" stroke="#0a0a0a" stroke-width="0.12">8</text>
<text x="497.2" y="577.3" font-size="8.1" font-weight="bold" text-anchor="end" fill="#0a0a0a" stroke="#0a0a0a" stroke-width="0.12">0</text>
<text x="497.2" y="548.88" font-size="8.1" font-weight="bold" text-anchor="end" fill="#0a0a0a" stroke="#0a0a0a" stroke-width="0.12">1</text>
<text x="497.2" y="520.45" font-size="8.1" font-weight="bold" text-anchor="end" fill="#0a0a0a" stroke="#0a0a0a" stroke-width="0.12">2</text>
<text x="497.2" y="492.02" font-size="8.1" font-weight="bold" text-anchor="end" fill="#0a0a0a" stroke="#0a0a0a" stroke-width="0.12">3</text>
<text x="497.2" y="463.6" font-size="8.1" font-weight="bold" text-anchor="end" fill="#0a0a0a" stroke="#0a0a0a" stroke-width="0.12">4</text>
<text x="585.65" y="601.6" font-size="8.5" font-weight="bold" text-anchor="middle" fill="#0a0a0a" stroke="#0a0a0a" stroke-width="0.1">STAT1</text>
<text transform="translate(487.1 517.55) rotate(-90)" font-size="8.7" font-weight="bold" text-anchor="middle" fill="#0a0a0a" stroke="#0a0a0a" stroke-width="0.1">TLR8</text>
<path d="M566.53 572.98L652.89 503.34" stroke="#161616" stroke-width="0.95"/>
<circle cx="566.53" cy="565.87" r="2.3" fill="#000"/>
<circle cx="567.14" cy="570.99" r="2.3" fill="#000"/>
<circle cx="570.64" cy="570.14" r="2.3" fill="#000"/>
<circle cx="627.39" cy="517.55" r="2.3" fill="#000"/>
<circle cx="635" cy="516.13" r="2.3" fill="#000"/>
<circle cx="640.76" cy="536.59" r="2.3" fill="#000"/>
<circle cx="643.64" cy="515.28" r="2.3" fill="#000"/>
<circle cx="652.89" cy="481.45" r="2.3" fill="#000"/>
<text x="549" y="503.7" font-size="8.58" fill="#1a1a1a">R<tspan font-size="7" dx="0.15" dy="-2.9">2</tspan><tspan dx="0.45" dy="2.9">=0.8468</tspan></text>
<text x="552" y="514.6" font-size="8.58" fill="#1a1a1a">P=0.0012</text>
</g>
<g>
<path d="M45.3 623.4V733H204.3M45.3 733v4.5M84.92 733v4.5M124.55 733v4.5M164.18 733v4.5M203.8 733v4.5M45.3 733h-4.1M45.3 711.18h-4.1M45.3 689.36h-4.1M45.3 667.54h-4.1M45.3 645.72h-4.1M45.3 623.9h-4.1" fill="none" stroke="#1e1e1e" stroke-width="1.35"/>
<text x="45.3" y="746.8" font-size="8.1" font-weight="bold" text-anchor="middle" fill="#0a0a0a" stroke="#0a0a0a" stroke-width="0.12">0</text>
<text x="84.92" y="746.8" font-size="8.1" font-weight="bold" text-anchor="middle" fill="#0a0a0a" stroke="#0a0a0a" stroke-width="0.12">2</text>
<text x="124.55" y="746.8" font-size="8.1" font-weight="bold" text-anchor="middle" fill="#0a0a0a" stroke="#0a0a0a" stroke-width="0.12">4</text>
<text x="164.18" y="746.8" font-size="8.1" font-weight="bold" text-anchor="middle" fill="#0a0a0a" stroke="#0a0a0a" stroke-width="0.12">6</text>
<text x="203.8" y="746.8" font-size="8.1" font-weight="bold" text-anchor="middle" fill="#0a0a0a" stroke="#0a0a0a" stroke-width="0.12">8</text>
<text x="39.1" y="735.9" font-size="8.1" font-weight="bold" text-anchor="end" fill="#0a0a0a" stroke="#0a0a0a" stroke-width="0.12">0</text>
<text x="39.1" y="714.08" font-size="8.1" font-weight="bold" text-anchor="end" fill="#0a0a0a" stroke="#0a0a0a" stroke-width="0.12">1</text>
<text x="39.1" y="692.26" font-size="8.1" font-weight="bold" text-anchor="end" fill="#0a0a0a" stroke="#0a0a0a" stroke-width="0.12">2</text>
<text x="39.1" y="670.44" font-size="8.1" font-weight="bold" text-anchor="end" fill="#0a0a0a" stroke="#0a0a0a" stroke-width="0.12">3</text>
<text x="39.1" y="648.62" font-size="8.1" font-weight="bold" text-anchor="end" fill="#0a0a0a" stroke="#0a0a0a" stroke-width="0.12">4</text>
<text x="39.1" y="626.8" font-size="8.1" font-weight="bold" text-anchor="end" fill="#0a0a0a" stroke="#0a0a0a" stroke-width="0.12">5</text>
<text x="124.55" y="759.9" font-size="8.5" font-weight="bold" text-anchor="middle" fill="#0a0a0a" stroke="#0a0a0a" stroke-width="0.1">STAT1</text>
<text transform="translate(30.2 678.45) rotate(-90)" font-size="8.7" font-weight="bold" text-anchor="middle" fill="#0a0a0a" stroke="#0a0a0a" stroke-width="0.1">CYRIB</text>
<path d="M106.12 690.45L189.34 647.9" stroke="#161616" stroke-width="0.95"/>
<circle cx="106.12" cy="685" r="2.3" fill="#000"/>
<circle cx="106.72" cy="693.07" r="2.3" fill="#000"/>
<circle cx="110.09" cy="693.72" r="2.3" fill="#000"/>
<circle cx="164.77" cy="650.74" r="2.3" fill="#000"/>
<circle cx="172.1" cy="657.72" r="2.3" fill="#000"/>
<circle cx="177.65" cy="665.36" r="2.3" fill="#000"/>
<circle cx="180.42" cy="651.61" r="2.3" fill="#000"/>
<circle cx="189.34" cy="645.72" r="2.3" fill="#000"/>
<text x="89.3" y="655.7" font-size="8.58" fill="#1a1a1a">R<tspan font-size="7" dx="0.15" dy="-2.9">2</tspan><tspan dx="0.45" dy="2.9">=0.8918</tspan></text>
<text x="89.3" y="666.6" font-size="8.58" fill="#1a1a1a">P=0.0004</text>
</g>
<g>
<path d="M275 626.4V736.7H433.7M275 736.7v4.5M314.55 736.7v4.5M354.1 736.7v4.5M393.65 736.7v4.5M433.2 736.7v4.5M275 736.7h-4.1M275 709.25h-4.1M275 681.8h-4.1M275 654.35h-4.1M275 626.9h-4.1" fill="none" stroke="#1e1e1e" stroke-width="1.35"/>
<text x="275" y="750.5" font-size="8.1" font-weight="bold" text-anchor="middle" fill="#0a0a0a" stroke="#0a0a0a" stroke-width="0.12">0</text>
<text x="314.55" y="750.5" font-size="8.1" font-weight="bold" text-anchor="middle" fill="#0a0a0a" stroke="#0a0a0a" stroke-width="0.12">2</text>
<text x="354.1" y="750.5" font-size="8.1" font-weight="bold" text-anchor="middle" fill="#0a0a0a" stroke="#0a0a0a" stroke-width="0.12">4</text>
<text x="393.65" y="750.5" font-size="8.1" font-weight="bold" text-anchor="middle" fill="#0a0a0a" stroke="#0a0a0a" stroke-width="0.12">6</text>
<text x="433.2" y="750.5" font-size="8.1" font-weight="bold" text-anchor="middle" fill="#0a0a0a" stroke="#0a0a0a" stroke-width="0.12">8</text>
<text x="268.8" y="739.6" font-size="8.1" font-weight="bold" text-anchor="end" fill="#0a0a0a" stroke="#0a0a0a" stroke-width="0.12">0</text>
<text x="268.8" y="712.15" font-size="8.1" font-weight="bold" text-anchor="end" fill="#0a0a0a" stroke="#0a0a0a" stroke-width="0.12">2</text>
<text x="268.8" y="684.7" font-size="8.1" font-weight="bold" text-anchor="end" fill="#0a0a0a" stroke="#0a0a0a" stroke-width="0.12">4</text>
<text x="268.8" y="657.25" font-size="8.1" font-weight="bold" text-anchor="end" fill="#0a0a0a" stroke="#0a0a0a" stroke-width="0.12">6</text>
<text x="268.8" y="629.8" font-size="8.1" font-weight="bold" text-anchor="end" fill="#0a0a0a" stroke="#0a0a0a" stroke-width="0.12">8</text>
<text x="354.1" y="763.6" font-size="8.5" font-weight="bold" text-anchor="middle" fill="#0a0a0a" stroke="#0a0a0a" stroke-width="0.1">STAT1</text>
<text transform="translate(259.9 681.8) rotate(-90)" font-size="8.7" font-weight="bold" text-anchor="middle" fill="#0a0a0a" stroke="#0a0a0a" stroke-width="0.1">IRF1</text>
<path d="M335.71 706.5L418.76 656.41" stroke="#161616" stroke-width="0.95"/>
<circle cx="335.71" cy="698.27" r="2.3" fill="#000"/>
<circle cx="336.3" cy="709.25" r="2.3" fill="#000"/>
<circle cx="339.66" cy="710.35" r="2.3" fill="#000"/>
<circle cx="394.24" cy="662.17" r="2.3" fill="#000"/>
<circle cx="401.56" cy="671.23" r="2.3" fill="#000"/>
<circle cx="407.1" cy="663.68" r="2.3" fill="#000"/>
<circle cx="409.87" cy="668.08" r="2.3" fill="#000"/>
<circle cx="418.76" cy="652.98" r="2.3" fill="#000"/>
<text x="325.3" y="664" font-size="8.58" fill="#1a1a1a">R<tspan font-size="7" dx="0.15" dy="-2.9">2</tspan><tspan dx="0.45" dy="2.9">=0.9257</tspan></text>
<text x="328.3" y="674.9" font-size="8.58" fill="#1a1a1a">P=0.0001</text>
</g>
<g>
<path d="M504 623.6V733.4H663.4M504 733.4v4.5M543.73 733.4v4.5M583.45 733.4v4.5M623.17 733.4v4.5M662.9 733.4v4.5M504 733.4h-4.1M504 706.08h-4.1M504 678.75h-4.1M504 651.42h-4.1M504 624.1h-4.1" fill="none" stroke="#1e1e1e" stroke-width="1.35"/>
<text x="504" y="747.2" font-size="8.1" font-weight="bold" text-anchor="middle" fill="#0a0a0a" stroke="#0a0a0a" stroke-width="0.12">0</text>
<text x="543.73" y="747.2" font-size="8.1" font-weight="bold" text-anchor="middle" fill="#0a0a0a" stroke="#0a0a0a" stroke-width="0.12">2</text>
<text x="583.45" y="747.2" font-size="8.1" font-weight="bold" text-anchor="middle" fill="#0a0a0a" stroke="#0a0a0a" stroke-width="0.12">4</text>
<text x="623.17" y="747.2" font-size="8.1" font-weight="bold" text-anchor="middle" fill="#0a0a0a" stroke="#0a0a0a" stroke-width="0.12">6</text>
<text x="662.9" y="747.2" font-size="8.1" font-weight="bold" text-anchor="middle" fill="#0a0a0a" stroke="#0a0a0a" stroke-width="0.12">8</text>
<text x="497.8" y="736.3" font-size="8.1" font-weight="bold" text-anchor="end" fill="#0a0a0a" stroke="#0a0a0a" stroke-width="0.12">0</text>
<text x="497.8" y="708.98" font-size="8.1" font-weight="bold" text-anchor="end" fill="#0a0a0a" stroke="#0a0a0a" stroke-width="0.12">1</text>
<text x="497.8" y="681.65" font-size="8.1" font-weight="bold" text-anchor="end" fill="#0a0a0a" stroke="#0a0a0a" stroke-width="0.12">2</text>
<text x="497.8" y="654.32" font-size="8.1" font-weight="bold" text-anchor="end" fill="#0a0a0a" stroke="#0a0a0a" stroke-width="0.12">3</text>
<text x="497.8" y="627" font-size="8.1" font-weight="bold" text-anchor="end" fill="#0a0a0a" stroke="#0a0a0a" stroke-width="0.12">4</text>
<text x="583.45" y="760.4" font-size="8.5" font-weight="bold" text-anchor="middle" fill="#0a0a0a" stroke="#0a0a0a" stroke-width="0.1">STAT1</text>
<text transform="translate(488.9 678.75) rotate(-90)" font-size="8.7" font-weight="bold" text-anchor="middle" fill="#0a0a0a" stroke="#0a0a0a" stroke-width="0.1">IL12RB1</text>
<path d="M564.98 721.92L648.4 645.96" stroke="#161616" stroke-width="0.95"/>
<circle cx="564.98" cy="716.46" r="2.3" fill="#000"/>
<circle cx="565.57" cy="722.47" r="2.3" fill="#000"/>
<circle cx="568.95" cy="724.66" r="2.3" fill="#000"/>
<circle cx="623.77" cy="659.62" r="2.3" fill="#000"/>
<circle cx="631.12" cy="670.01" r="2.3" fill="#000"/>
<circle cx="636.68" cy="661.81" r="2.3" fill="#000"/>
<circle cx="639.46" cy="660.72" r="2.3" fill="#000"/>
<circle cx="648.4" cy="632.84" r="2.3" fill="#000"/>
<text x="548" y="656.5" font-size="8.58" fill="#1a1a1a">R<tspan font-size="7" dx="0.15" dy="-2.9">2</tspan><tspan dx="0.45" dy="2.9">=0.9460</tspan></text>
<text x="551" y="667.4" font-size="8.58" fill="#1a1a1a">P&lt;0.0001</text>
</g>
</g>
</svg></body></html>
